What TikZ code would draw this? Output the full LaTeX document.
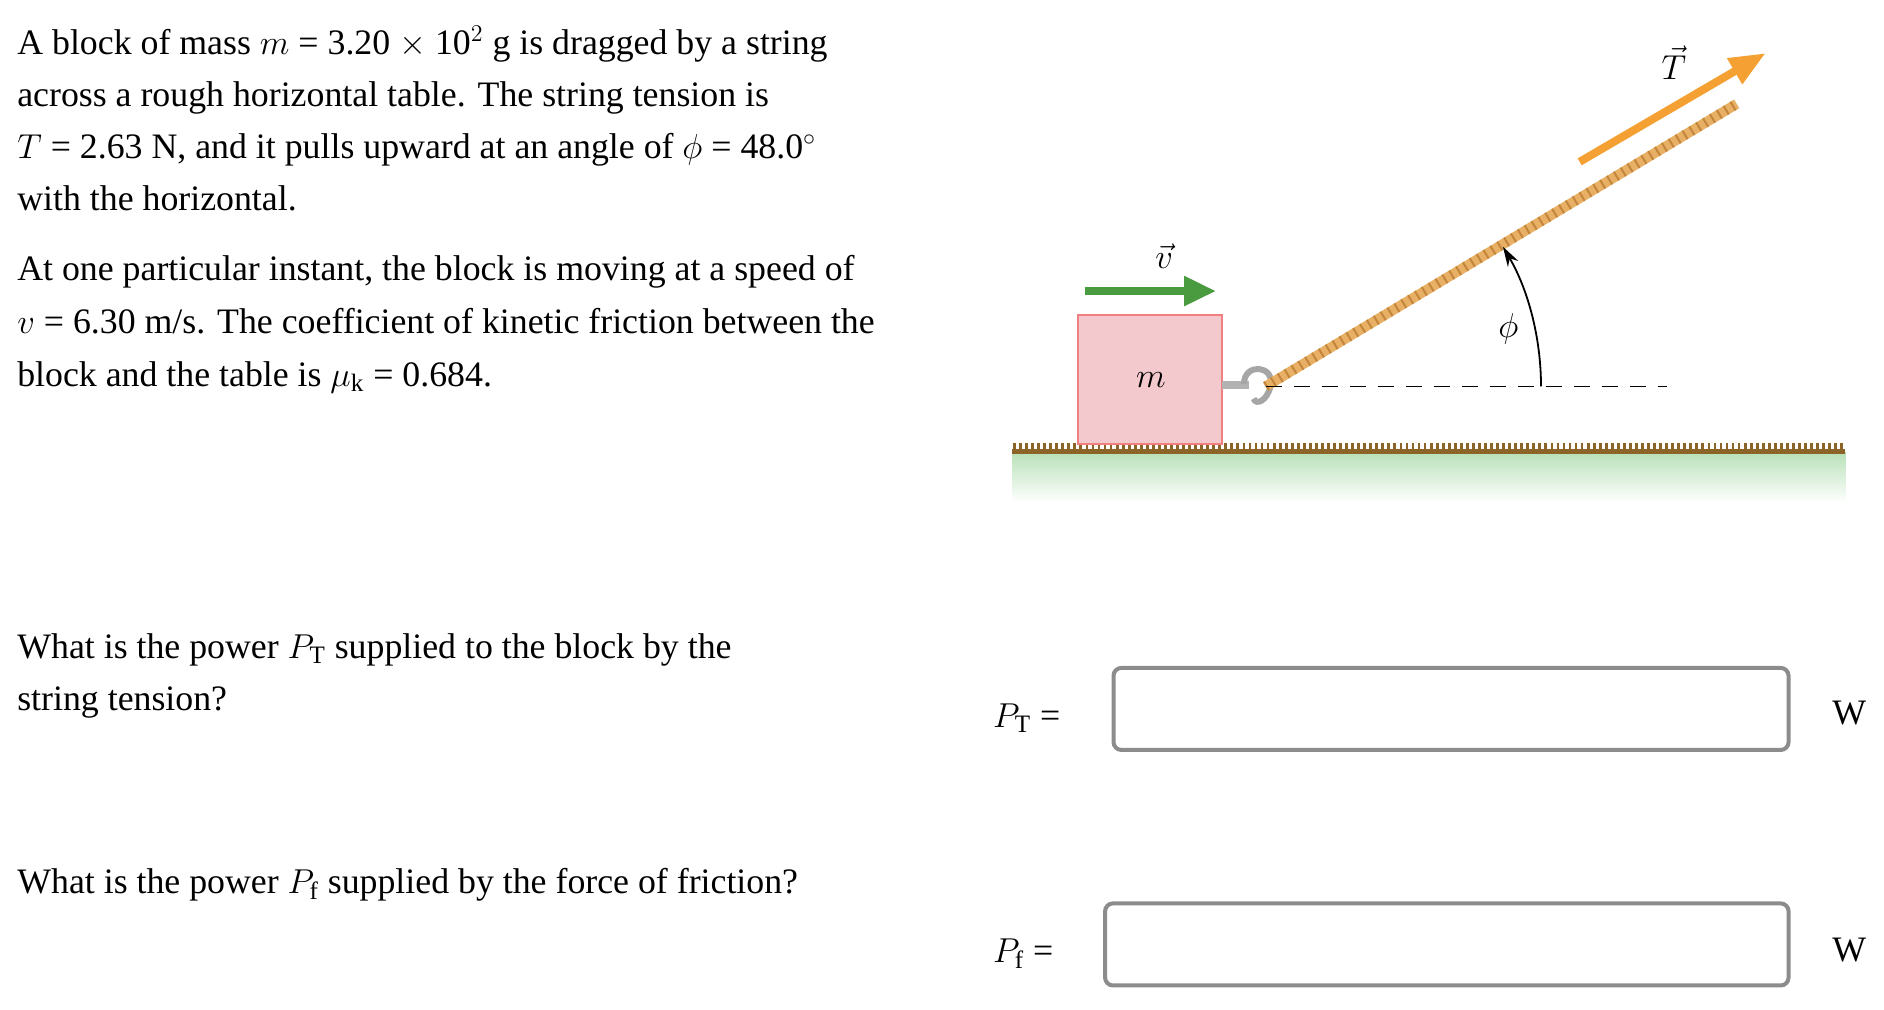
\documentclass[tikz,border=0pt]{standalone}
\usepackage{fontspec}
\setmainfont{Liberation Serif}
\usetikzlibrary{arrows.meta}
\begin{document}
\begin{tikzpicture}[x=0.6038pt,y=-0.6038pt,
  txt/.style={anchor=base west,inner sep=0,font=\fontsize{17.9}{21}\selectfont},
  ansbox/.style={draw=gray!90,line width=2pt,rounded corners=4pt,fill=white},
  lab/.style={inner sep=0,font=\fontsize{16.5}{20}\selectfont}]
\useasboundingbox (0,0) rectangle (1560,836.3);
\node[txt] (l1) at (14,45) {A block of mass $m$ = 3.20 $\times$ 10$^2$ g is dragged by a string};
\node[txt] (l2) at (14,88) {across a rough horizontal table. The string tension is};
\node[txt] (l3) at (14,131) {$T$ = 2.63 N, and it pulls upward at an angle of $\phi$ = 48.0$^\circ$};
\node[txt] (l4) at (14,174) {with the horizontal.};
\node[txt] (l5) at (14,232) {At one particular instant, the block is moving at a speed of};
\node[txt] (l6) at (14,276) {$v$ = 6.30 m/s. The coefficient of kinetic friction between the};
\node[txt] (l7) at (14,320) {block and the table is $\mu_\mathrm{k}$ = 0.684.};
\node[txt] (q1) at (14,545) {What is the power $P_\mathrm{T}$ supplied to the block by the};
\node[txt] (q1b) at (14,588) {string tension?};
\node[txt] (q2) at (14,740) {What is the power $P_\mathrm{f}$ supplied by the force of friction?};
\node[txt] (pt) at (822,602) {$P_\mathrm{T}$ =};
\node[txt] (pf) at (822,797) {$P_\mathrm{f}$ =};
\draw[ansbox] (922,553) rectangle (1481,621);
\draw[ansbox] (915,748) rectangle (1481,816);
\node[txt] (w1) at (1517,600) {W};
\node[txt] (w2) at (1517,796) {W};
% ground
\shade[top color=green!40!gray!40!white, bottom color=white] (838,374) rectangle (1528,416);
\draw[line width=2.5pt,color={rgb,255:red,140;green,100;blue,40}] (838,373.5) -- (1528,373.5);
\foreach \i in {0,...,137} \draw[line width=1.4pt,color={rgb,255:red,140;green,100;blue,40}] ({840+5*\i},372) -- ({840+5*\i},367);
% block
\node[draw={rgb,255:red,240;green,128;blue,128},fill={rgb,255:red,244;green,201;blue,205},line width=1pt,minimum width=119*0.6038pt,minimum height=107*0.6038pt,inner sep=0] (blk) at (952.5,314.5) {};
\node[lab,font=\fontsize{16.5}{20}\selectfont\itshape] (m) at (953,315) {$m$};
% velocity
\coordinate (v0) at (898,241);
\coordinate (v1) at (1007,241);
\draw[line width=4pt,color={rgb,255:red,74;green,154;blue,63},-{Triangle[length=16pt,width=14pt]}] (v0) -- (v1);
\node[lab] (vl) at (964,212) {$\vec v$};
% hook
\draw[line width=4pt,gray!60] (1012,319) -- (1034,319);
\draw[line width=3pt,gray!70] (1030,318) .. controls (1030,300) and (1056,302) .. (1052,320) .. controls (1049,332) and (1040,336) .. (1038,330);
% rope
\coordinate (r0) at (1048,320);
\coordinate (r1) at (1438,86);
\draw[line width=5pt,color={rgb,255:red,232;green,176;blue,100}] (r0) -- (r1);
\draw[line width=5pt,color={rgb,255:red,196;green,134;blue,60},dash pattern=on 1pt off 3pt] (r0) -- (r1);
% dashed ref
\coordinate (d1) at (1380,320);
\draw[line width=0.9pt,dash pattern=on 8pt off 6pt] (r0) -- (d1);
% angle
\draw[line width=0.9pt,-{Stealth[length=10pt,width=6pt]}] (1276,320) arc[start angle=0,end angle=-30.5,radius=228];
\node[lab] (phi) at (1249,272) {$\phi$};
% tension
\coordinate (t0) at (1308,134);
\coordinate (t1) at (1462,44);
\draw[line width=4pt,color={rgb,255:red,244;green,160;blue,50},-{Triangle[length=18pt,width=14pt]}] (t0) -- (t1);
\node[lab] (tl) at (1386,52) {$\vec T$};
\end{tikzpicture}
\end{document}
